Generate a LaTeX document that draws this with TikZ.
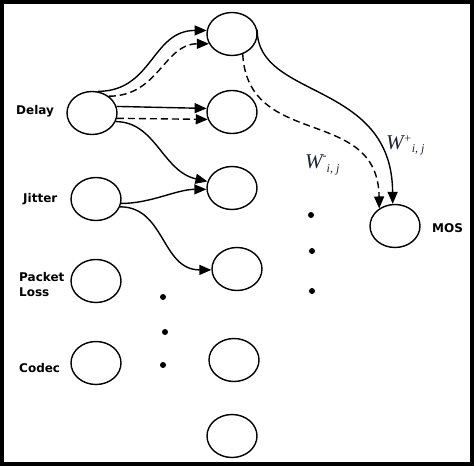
\documentclass[tikz,border=0pt]{standalone}
\usepackage{fontspec}
\setmainfont{DejaVu Sans}
\newfontfamily\wfont{Liberation Serif}
\usetikzlibrary{shapes.geometric,arrows.meta}
\definecolor{wcol}{RGB}{30,35,60}
\begin{document}
\begin{tikzpicture}[x=1pt,y=-1pt,
  neuron/.style={draw,ellipse,line width=1.4pt,minimum width=50pt,minimum height=43pt,inner sep=0pt},
  lab/.style={font=\bfseries\fontsize{12}{15.5}\selectfont,inner sep=0pt},
  conn/.style={line width=1.4pt,-{Triangle[length=12pt,width=10pt]}},
  dconn/.style={conn,dash pattern=on 7pt off 4pt},
  dotmark/.style={circle,fill=black,inner sep=0pt,minimum size=6pt},
  wlab/.style={inner sep=0pt,text=wcol}]
\useasboundingbox (0,0) rectangle (474,466);
\draw[line width=4pt] (2,2) rectangle (472,463.5);
% input layer
\node[neuron] (D) at (92,113) {};
\node[neuron] (J) at (96,199) {};
\node[neuron] (P) at (96,281) {};
\node[neuron] (C) at (96,363) {};
% hidden layer
\node[neuron] (H1) at (232,34) {};
\node[neuron] (H2) at (232,112) {};
\node[neuron] (H3) at (232,188) {};
\node[neuron] (H4) at (237,269) {};
\node[neuron] (H5) at (234,360) {};
\node[neuron] (H6) at (232,436) {};
% output
\node[neuron] (M) at (395,226) {};
% labels
\node[lab,anchor=base west] (tD) at (16,114) {Delay};
\node[lab,anchor=base west] (tJ) at (23,202) {Jitter};
\node[lab,anchor=north west,align=left] (tP) at (19,272) {Packet\\Loss};
\node[lab,anchor=base west] (tC) at (19,372) {Codec};
\node[lab,anchor=base west] (tM) at (432,232) {MOS};
% dots
\node[dotmark] (d1) at (163,297) {};
\node[dotmark] (d2) at (165,332) {};
\node[dotmark] (d3) at (163,365) {};
\node[dotmark] (d4) at (311,215) {};
\node[dotmark] (d5) at (312,251) {};
\node[dotmark] (d6) at (312,291) {};
% connections
\draw[conn] (D.75) .. controls +(55,0) and +(-55,0) .. (H1.172);
\draw[dconn] (D.45) .. controls +(50,0) and +(-45,0) .. (H1.203);
\draw[conn] (D.15) -- (H2.172);
\draw[dconn] (D.-12) -- (H2.197);
\draw[conn] (D.-20) .. controls +(40,0) and +(-45,-10) .. (H3.165);
\draw[conn] (J.-10) .. controls +(30,0) and +(-30,0) .. (H3.183);
\draw[conn] (J.-18) .. controls +(45,0) and +(-50,0) .. (H4.182);
\draw[conn] (H1.10) .. controls (257,100) and (392,80) .. (M.96);
\draw[dconn] (H1.-62) .. controls (248,150) and (378,105) .. (M.132);
% weights
\node[wlab,anchor=base west] (wp) at (386,149) {\wfont\itshape\fontsize{21}{21}\selectfont W\raisebox{7pt}{\fontsize{12}{12}\selectfont +}\raisebox{-3pt}{\fontsize{12}{12}\selectfont i, j}};
\node[wlab,anchor=base west] (wm) at (305,168) {\wfont\itshape\fontsize{21}{21}\selectfont W\raisebox{9pt}{\fontsize{12}{12}\selectfont -}\raisebox{-4pt}{\fontsize{12}{12}\selectfont i, j}};
\end{tikzpicture}
\end{document}
